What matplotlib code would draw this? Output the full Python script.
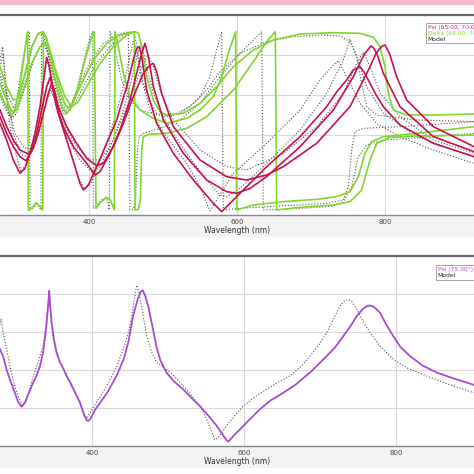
import matplotlib
matplotlib.use('Agg')
import matplotlib.pyplot as plt
from matplotlib.lines import Line2D
from matplotlib.patches import Rectangle

# ---- top panel: Psi / Delta at 65, 70, 75 deg (y in arbitrary units, 0-600) ----
psi75_wl = [279.7, 288.7, 297.7, 306.7, 313.5, 320.2, 327.0, 333.8, 339.2, 342.8, 346.4, 351.8, 358.5, 369.8, 381.1, 387.8, 392.3, 399.1, 410.3, 423.9, 437.4, 450.9, 459.9, 464.4, 468.0, 471.2, 477.9, 491.4, 514.0, 541.0, 568.0, 579.3, 590.5, 617.6, 640.1, 685.2, 721.2, 735.0, 748.2, 757.0, 766.2, 772.0, 779.8, 788.0, 797.8, 820.3, 865.4, 920.3]
psi75 = [275, 225, 165, 125, 140, 185, 245, 325, 415, 473, 445, 375, 305, 225, 145, 95, 75, 90, 145, 215, 285, 385, 465, 500, 505, 475, 375, 275, 185, 105, 35, 10, 35, 95, 145, 235, 325, 370, 405, 435, 445, 428, 395, 360, 325, 270, 215, 175]

psi70_wl = [279.7, 288.7, 297.7, 306.7, 314.8, 322.5, 329.3, 336.0, 342.8, 347.3, 350.9, 356.3, 365.3, 378.8, 396.8, 408.1, 414.9, 428.4, 441.9, 455.4, 464.4, 471.2, 475.7, 480.2, 487.0, 500.5, 527.5, 559.0, 586.0, 599.6, 617.6, 640.1, 685.2, 730.2, 757.2, 768.0, 773.0, 781.1, 785.0, 788.8, 793.0, 797.8, 820.3, 865.4, 920.3]
psi70 = [295, 245, 205, 175, 163, 190, 245, 315, 385, 413, 385, 325, 265, 205, 155, 120, 130, 185, 255, 345, 425, 485, 515, 475, 385, 285, 185, 105, 70, 65, 80, 115, 205, 315, 415, 465, 485, 507, 500, 485, 458, 425, 325, 235, 190]

psi65_wl = [279.7, 288.7, 297.7, 306.7, 318.0, 324.8, 331.5, 338.3, 345.0, 349.5, 353.1, 358.5, 369.8, 383.3, 396.8, 410.3, 419.4, 432.9, 446.4, 459.9, 473.4, 482.4, 486.9, 491.4, 498.2, 514.0, 550.0, 586.0, 613.1, 640.1, 662.6, 707.7, 752.7, 779.8, 788.0, 793.3, 797.0, 800.0, 803.0, 806.8, 815.7, 829.3, 865.4, 920.3]
psi65 = [315, 265, 225, 195, 183, 200, 245, 305, 365, 395, 375, 325, 265, 215, 170, 148, 155, 205, 275, 355, 425, 450, 455, 430, 365, 265, 165, 115, 105, 120, 145, 215, 325, 445, 485, 500, 508, 510, 498, 480, 415, 345, 265, 205]

delta_a_wl = [279.7, 288.7, 295.5, 300.0, 306.7, 312.1, 315.7, 317.1, 318.0, 322.5, 328.4, 333.8, 337.4, 338.3, 342.8, 349.5, 356.3, 363.0, 369.8, 376.6, 385.6, 394.6, 402.2, 407.2, 409.4, 414.9, 423.0, 428.4, 434.2, 435.1, 439.6, 446.4, 455.4, 468.9, 487.0, 505.0, 532.0, 550.0, 568.0, 579.3, 588.3, 595.1, 598.2, 599.6, 622.1, 662.6, 707.7, 734.7, 752.7, 764.0, 773.0, 782.0, 797.8, 842.9, 920.3]
delta_a = [395, 345, 310, 315, 385, 475, 535, 550, 15, 20, 37, 25, 15, 550, 525, 455, 385, 325, 305, 325, 385, 465, 525, 550, 20, 35, 53, 47, 15, 550, 505, 425, 355, 315, 290, 275, 290, 315, 355, 415, 485, 530, 550, 15, 30, 40, 47, 55, 70, 115, 185, 220, 235, 245, 265]

delta_b_wl = [279.7, 288.7, 297.7, 304.5, 313.5, 322.5, 331.5, 336.0, 341.9, 349.5, 358.5, 367.5, 372.1, 378.8, 390.1, 405.8, 423.9, 441.9, 457.6, 461.3, 462.2, 466.7, 469.4, 471.2, 473.4, 480.2, 505.0, 532.0, 559.0, 595.1, 622.1, 640.1, 651.8, 653.6, 685.2, 730.2, 752.7, 768.5, 779.8, 788.8, 806.8, 842.9, 920.3]
delta_b = [445, 385, 345, 350, 425, 505, 545, 548, 535, 475, 395, 330, 320, 340, 395, 465, 515, 540, 548, 550, 15, 17, 45, 195, 235, 242, 245, 260, 295, 375, 460, 520, 550, 15, 23, 30, 40, 75, 165, 215, 233, 237, 240]

delta_c_wl = [279.7, 288.7, 295.5, 302.2, 311.2, 322.5, 333.8, 340.5, 347.3, 356.3, 367.5, 376.6, 385.6, 396.8, 414.9, 432.9, 450.9, 462.2, 466.7, 471.2, 477.9, 486.9, 495.9, 505.0, 527.5, 550.0, 572.5, 595.1, 622.1, 649.1, 685.2, 730.2, 766.2, 784.3, 793.3, 800.0, 804.6, 811.3, 829.3, 865.4, 920.3]
delta_c = [365, 325, 300, 315, 375, 455, 505, 515, 490, 425, 355, 325, 340, 385, 455, 505, 540, 550, 545, 505, 415, 345, 310, 300, 305, 335, 385, 445, 495, 525, 543, 547, 545, 533, 505, 445, 365, 315, 300, 300, 303]

# model curves (top)
m_psi75_wl = [279.7, 283.3, 286.5, 293.2, 302.2, 308.1, 315.7, 324.8, 333.8, 339.2, 342.8, 346.4, 351.8, 360.8, 374.3, 385.6, 394.6, 403.6, 414.9, 428.4, 441.9, 453.1, 459.9, 464.4, 471.2, 482.4, 505.0, 532.0, 550.0, 559.0, 563.5, 572.5, 595.1, 640.1, 685.2, 712.2, 730.2, 737.0, 748.2, 766.2, 788.8, 820.3, 865.4, 920.3]
m_psi75 = [465, 505, 395, 265, 175, 130, 155, 225, 315, 405, 470, 435, 365, 285, 195, 115, 77, 100, 165, 245, 345, 455, 525, 495, 405, 315, 235, 155, 85, 35, 13, 45, 125, 215, 315, 405, 450, 463, 415, 335, 275, 235, 195, 155]

m_psi70_wl = [279.7, 284.2, 288.7, 297.7, 309.0, 318.0, 327.0, 336.0, 345.0, 349.5, 356.3, 369.8, 387.8, 403.6, 414.9, 428.4, 444.1, 457.6, 466.7, 471.2, 477.9, 486.9, 505.0, 532.0, 559.0, 577.0, 586.0, 604.1, 640.1, 685.2, 721.2, 743.7, 752.7, 761.8, 775.3, 797.8, 842.9, 920.3]
m_psi70 = [445, 485, 365, 245, 180, 175, 225, 315, 400, 380, 315, 235, 165, 130, 145, 205, 295, 405, 495, 510, 445, 365, 275, 185, 105, 60, 55, 80, 155, 255, 365, 465, 528, 475, 385, 305, 235, 175]

m_psi65_wl = [279.7, 288.7, 300.0, 311.2, 320.2, 329.3, 340.5, 348.2, 354.0, 365.3, 383.3, 401.3, 414.9, 428.4, 444.1, 459.9, 473.4, 480.2, 486.9, 495.9, 514.0, 550.0, 586.0, 613.1, 662.6, 707.7, 743.7, 761.8, 770.7, 779.8, 793.3, 820.3, 865.4, 920.3]
m_psi65 = [415, 345, 245, 205, 195, 235, 325, 375, 345, 275, 205, 165, 165, 205, 285, 375, 455, 480, 445, 375, 285, 195, 145, 135, 185, 265, 365, 455, 488, 445, 365, 295, 225, 185]

m_delta_a_wl = [279.7, 288.7, 295.5, 302.2, 309.0, 315.7, 319.3, 320.2, 324.8, 329.3, 332.9, 335.1, 336.0, 340.5, 347.3, 354.0, 360.8, 367.5, 374.3, 383.3, 392.3, 400.4, 404.9, 405.8, 412.6, 419.4, 424.8, 427.5, 428.4, 435.1, 444.1, 455.4, 468.9, 491.4, 514.0, 536.5, 550.0, 563.5, 572.5, 579.3, 581.5, 604.1, 640.1, 685.2, 721.2, 743.7, 750.5, 755.0, 759.5, 770.7, 820.3, 920.3]
m_delta_a = [375, 315, 295, 345, 445, 525, 550, 15, 20, 33, 23, 15, 550, 525, 455, 385, 325, 300, 315, 375, 455, 525, 550, 20, 35, 50, 45, 15, 550, 495, 405, 345, 315, 300, 300, 325, 355, 415, 495, 550, 15, 20, 25, 30, 35, 45, 85, 195, 250, 260, 265, 280]

m_delta_b_wl = [279.7, 288.7, 297.7, 304.5, 313.5, 322.5, 330.2, 333.8, 339.2, 347.3, 356.3, 365.3, 369.8, 376.6, 387.8, 401.3, 419.4, 437.4, 453.1, 455.4, 459.9, 463.1, 465.3, 468.0, 473.4, 496.0, 523.0, 550.0, 577.0, 604.1, 626.6, 633.3, 635.6, 662.6, 707.7, 730.2, 743.7, 755.0, 764.0, 775.3, 797.8, 865.4, 920.3]
m_delta_b = [425, 365, 325, 335, 415, 495, 540, 545, 530, 465, 385, 325, 315, 335, 395, 460, 515, 540, 550, 15, 17, 45, 195, 235, 245, 260, 285, 335, 415, 485, 535, 550, 15, 17, 23, 27, 40, 85, 175, 210, 225, 235, 245]

m_delta_c_wl = [279.7, 288.7, 295.5, 302.2, 311.2, 322.5, 331.5, 337.4, 343.7, 351.8, 363.0, 372.1, 381.1, 392.3, 410.3, 428.4, 446.4, 456.3, 460.8, 465.3, 471.2, 480.2, 491.4, 505.0, 523.0, 541.0, 559.0, 577.0, 604.1, 640.1, 676.1, 712.2, 739.2, 752.7, 761.8, 768.5, 775.3, 788.8, 842.9, 920.3]
m_delta_c = [355, 310, 290, 305, 365, 445, 495, 515, 490, 425, 350, 320, 335, 385, 455, 505, 540, 550, 545, 505, 415, 345, 305, 295, 305, 335, 375, 430, 485, 520, 535, 540, 537, 520, 475, 395, 325, 300, 285, 280]

# ---- bottom panel: Psi at 75 deg and its model ----
b_psi_wl = [279, 284, 287.8, 293, 298.7, 303, 307.5, 312, 317, 322.4, 327, 331.6, 336, 338.5, 340.4, 342.5, 343.8, 345.3, 347, 350, 353.5, 358, 362, 366.7, 372, 378, 384.2, 389, 393, 395.1, 398, 404, 410.5, 420, 432.5, 442, 448, 454, 460, 464, 466.7, 470, 474, 480, 485, 490, 498, 508, 520, 530, 542, 553, 564, 572, 577, 579.5, 584, 590, 595, 605, 621, 635, 651.7, 668, 686.8, 698, 708.8, 720, 730.7, 740, 748.3, 756, 762, 766, 771, 779, 787, 796.4, 806, 818.4, 835, 853.5, 875, 902.6]
b_psi = [306, 276, 240, 204, 167, 138, 124, 138, 168, 199, 222, 252, 300, 348, 389, 450, 490, 432, 389, 336, 294, 264, 246, 221, 198, 168, 137, 102, 82, 79, 86, 114, 136, 168, 222, 276, 330, 410, 462, 486, 492, 474, 442, 372, 312, 270, 232, 204, 179, 154, 126, 96, 64, 36, 18, 14, 26, 42, 53, 78, 116, 144, 168, 194, 232, 258, 284, 312, 347, 378, 410, 432, 442, 444, 439, 421, 384, 347, 312, 284, 254, 232, 214, 193]

b_model_wl = [279, 280.5, 283, 287.8, 293, 298.7, 304, 308.8, 313, 318, 322.4, 329, 335.5, 339, 341.5, 343.8, 345.5, 348, 352, 358, 367, 375, 384, 389, 393, 397, 403, 410.5, 420, 432.5, 442, 448, 452.2, 456, 458.8, 461, 465.3, 472, 478, 485, 498, 510, 520, 530, 542, 552, 558, 561.8, 566, 572, 577, 588, 599, 615, 630, 645, 660.5, 675, 686.8, 698, 708.8, 718, 726.3, 732, 737.2, 742, 748.3, 756, 765.8, 780, 796.4, 815, 840.4, 870, 902.6]
b_model = [384, 402, 360, 304, 240, 187, 150, 126, 144, 180, 218, 264, 313, 372, 432, 476, 420, 354, 306, 264, 222, 180, 138, 108, 88, 102, 126, 156, 192, 251, 312, 360, 410, 468, 508, 492, 440, 347, 300, 264, 242, 216, 190, 162, 126, 78, 42, 19, 26, 46, 64, 96, 126, 156, 179, 202, 221, 252, 284, 318, 358, 402, 442, 458, 463, 456, 432, 396, 358, 312, 274, 246, 221, 194, 168]

PSI = '#c8124f'
DELTA = '#7fd72c'
MODEL = '#555555'
PURPLE = '#a64bd6'

fig = plt.figure(figsize=(4.74, 4.74), dpi=100)
fig.patch.set_facecolor('white')

# pink strip and light grey label bands
fig.add_artist(Rectangle((0, 1 - 4 / 474), 1, 4 / 474, transform=fig.transFigure, color='#f4bcc8', zorder=0))
fig.add_artist(Rectangle((0, 1 - 236 / 474), 1, 21 / 474, transform=fig.transFigure, color='#f3f3f3', zorder=0))
fig.add_artist(Rectangle((0, 1 - 467 / 474), 1, 21 / 474, transform=fig.transFigure, color='#f3f3f3', zorder=0))


def style(ax, xlim):
    ax.set_xlim(*xlim)
    ax.set_ylim(0, 600)
    ax.set_xticks([400, 600, 800])
    ax.set_yticks([120, 240, 360, 480])
    ax.set_yticklabels([])
    ax.grid(True, color='#d9d9d9', lw=0.8)
    ax.set_axisbelow(True)
    ax.tick_params(length=0, labelsize=5, colors='#444444', pad=3)
    for s in ['left', 'right']:
        ax.spines[s].set_visible(False)
    ax.spines['top'].set_color('#666666')
    ax.spines['top'].set_linewidth(1.6)
    ax.spines['bottom'].set_color('#888888')
    ax.spines['bottom'].set_linewidth(1.0)
    ax.set_xlabel('Wavelength (nm)', fontsize=5.5, color='#333333', labelpad=0.5)


ax1 = fig.add_axes([0, 1 - 215 / 474, 1, 200 / 474])
style(ax1, (279.7, 920.3))
for wl, y in [(m_psi75_wl, m_psi75), (m_psi70_wl, m_psi70), (m_psi65_wl, m_psi65),
              (m_delta_a_wl, m_delta_a), (m_delta_b_wl, m_delta_b), (m_delta_c_wl, m_delta_c)]:
    ax1.plot(wl, y, ls=':', color=MODEL, lw=0.8, zorder=2)
for wl, y in [(delta_a_wl, delta_a), (delta_b_wl, delta_b), (delta_c_wl, delta_c)]:
    ax1.plot(wl, y, color=DELTA, lw=1.2, zorder=3)
for wl, y in [(psi75_wl, psi75), (psi70_wl, psi70), (psi65_wl, psi65)]:
    ax1.plot(wl, y, color=PSI, lw=1.2, zorder=4)

h = [Line2D([], [], lw=0) for _ in range(3)]
leg1 = ax1.legend(h, ['Psi (65.00, 70.00, 75.00°)', 'Delta (65.00, 70.00, 75.00°)', 'Model'],
                  loc='upper left', bbox_to_anchor=(423 / 474, 0.975), fontsize=4.3,
                  handlelength=0, handletextpad=0, borderpad=0.3, labelspacing=0.1,
                  fancybox=False, edgecolor='#999999', framealpha=1,
                  labelcolor=['#d0208a', DELTA, '#222222'])
leg1.get_frame().set_linewidth(0.6)

ax2 = fig.add_axes([0, 1 - 446 / 474, 1, 190 / 474])
style(ax2, (279, 902.6))
ax2.plot(b_model_wl, b_model, ls=':', color=MODEL, lw=0.8, zorder=2)
ax2.plot(b_psi_wl, b_psi, color=PURPLE, lw=1.3, zorder=3)
h2 = [Line2D([], [], lw=0) for _ in range(2)]
leg2 = ax2.legend(h2, ['Psi (75.00°)', 'Model'], loc='upper left',
                  bbox_to_anchor=(433 / 474, 0.968), fontsize=4.3,
                  handlelength=0, handletextpad=0, borderpad=0.3, labelspacing=0.1,
                  fancybox=False, edgecolor='#999999', framealpha=1,
                  labelcolor=['#c040e0', '#222222'])
leg2.get_frame().set_linewidth(0.6)

fig.savefig('out.png', dpi=100)
